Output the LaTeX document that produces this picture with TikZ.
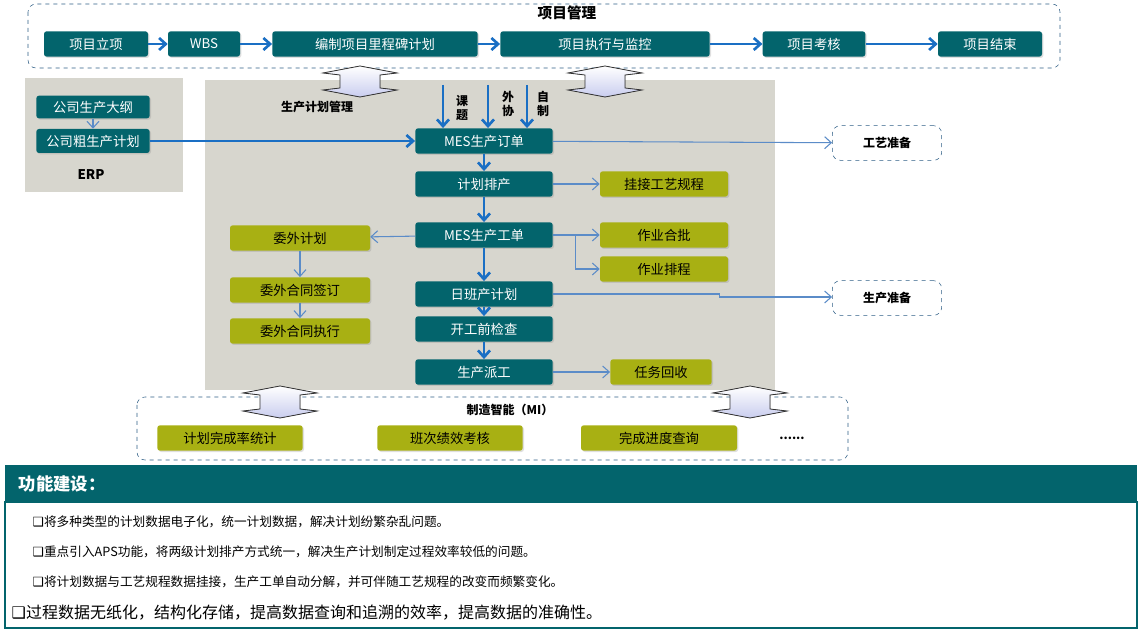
\documentclass[tikz,border=0pt]{standalone}
\usepackage{fontspec}
\setmainfont{Noto Sans CJK SC}
\newfontfamily\dv{DejaVu Sans}
\usetikzlibrary{arrows.meta,shadows}
\definecolor{teal1}{HTML}{03646C}
\definecolor{olive1}{HTML}{A8B013}
\definecolor{grey1}{HTML}{D7D6CE}
\definecolor{blue1}{HTML}{1A6FC4}
\definecolor{thin1}{HTML}{5B8CC8}
\definecolor{dash1}{HTML}{2F5F86}
\definecolor{lav}{HTML}{C9CDEF}
\tikzset{
  tb/.style={fill=teal1,text=white,rounded corners=2pt,font=\fontsize{10}{12}\selectfont,minimum height=19pt,inner sep=0pt,drop shadow={opacity=0.25,shadow xshift=1pt,shadow yshift=-1pt}},
  ob/.style={fill=olive1,text=black,rounded corners=2pt,font=\fontsize{10}{12}\selectfont,minimum height=19pt,inner sep=0pt,drop shadow={opacity=0.25,shadow xshift=1pt,shadow yshift=-1pt}},
  db/.style={draw=dash1,dashed,rounded corners=6pt,fill=white},
  thick1/.style={draw=blue1,line width=2pt,-{Straight Barb[length=5pt,width=9pt]}},
  thin2/.style={draw=thin1,line width=0.8pt,-{Straight Barb[length=5pt,width=9pt]}},
  bl/.style={font=\bfseries\fontsize{9}{11}\selectfont},
}
\newcommand{\dblarrow}[3]{% cx, y0, y1
  \filldraw[draw=black!80,line width=0.6pt,top color=white,bottom color=lav]
   (#1-37,#2+4)--(#1,#2-3)--(#1+37,#2+4)--(#1+20,#2+6)--(#1+20,#3-6)--(#1+37,#3-4)--(#1,#3+3)--(#1-37,#3-4)--(#1-20,#3-6)--(#1-20,#2+6)--cycle;}
\begin{document}
\begin{tikzpicture}[x=0.75pt,y=-0.75pt]
\useasboundingbox[fill=white] (0,0) rectangle (1145,630);
% top box
\draw[db] (28,4) rectangle (1060,68);
\node[bl,font=\bfseries\fontsize{11}{13}\selectfont] at (567,13) {项目管理};
\node[tb,minimum width=78pt] (p1) at (96,44) {项目立项};
\node[tb,minimum width=54pt] (p2) at (204,44) {WBS};
\node[tb,minimum width=154pt] (p3) at (375,44) {编制项目里程碑计划};
\node[tb,minimum width=157pt] (p4) at (605,44) {项目执行与监控};
\node[tb,minimum width=77pt] (p5) at (814,44) {项目考核};
\node[tb,minimum width=78pt] (p6) at (990,44) {项目结束};
\foreach \a/\b in {p1/p2,p2/p3,p3/p4,p4/p5,p5/p6} \draw[thick1] (\a)--(\b);
% ERP
\fill[grey1] (25,78) rectangle (183,192);
\node[tb,minimum width=85pt,minimum height=17pt] (e1) at (93,107) {公司生产大纲};
\node[tb,minimum width=85pt,minimum height=18pt] (e2) at (93,141) {公司粗生产计划};
\node[bl,font=\bfseries\fontsize{10}{12}\selectfont] at (91,175) {ERP};
\draw[thin2] (e1)--(e2);
% main grey
\fill[grey1] (205,80) rectangle (775,390);
\dblarrow{360}{69}{94}
\dblarrow{605}{69}{94}
\node[bl] at (317,107) {生产计划管理};
\node[tb,minimum width=103pt] (m1) at (484,141) {MES生产订单};
\coordinate (s1) at (443,85); \coordinate (s2) at (488,85); \coordinate (s3) at (527,85);
\draw[thick1] (s1)--(m1.north -| s1);
\draw[thick1] (s2)--(m1.north -| s2);
\draw[thick1] (s3)--(m1.north -| s3);
\node[bl,align=center] at (462,108) {课\\题};
\node[bl,align=center] at (508,104) {外\\协};
\node[bl,align=center] at (543,104) {自\\制};
\node[tb,minimum width=103pt] (m2) at (484,184) {计划排产};
\node[ob,minimum width=96pt] (g1) at (664,184) {挂接工艺规程};
\node[tb,minimum width=103pt] (m3) at (484,235) {MES生产工单};
\node[ob,minimum width=96pt] (g2) at (664,235) {作业合批};
\node[ob,minimum width=96pt] (g3) at (664,269) {作业排程};
\node[ob,minimum width=105pt] (w1) at (300,238) {委外计划};
\node[ob,minimum width=105pt] (w2) at (300,290) {委外合同签订};
\node[ob,minimum width=105pt] (w3) at (300,331) {委外合同执行};
\node[tb,minimum width=103pt] (m4) at (484,294) {日班产计划};
\node[tb,minimum width=103pt] (m5) at (484,329) {开工前检查};
\node[tb,minimum width=103pt] (m6) at (484,372) {生产派工};
\node[ob,minimum width=76pt] (g4) at (661,372) {任务回收};
% right dashed
\node[db,minimum width=82pt,minimum height=26pt,bl] (r1) at (887,143) {工艺准备};
\node[db,minimum width=82pt,minimum height=26pt,bl] (r2) at (887,298) {生产准备};
% connectors
\draw[thick1] (e2)--(m1);
\draw[thin2] (m1)--(r1);
\draw[thick1] (m1)--(m2);
\draw[thin2] (m2)--(g1);
\draw[thick1] (m2)--(m3);
\draw[thin2] (m3)--(g2);
\draw[thin2] (m3.east)++(23,0) coordinate (br) (br) |- (g3.west);
\draw[thin2] (m3)--(w1);
\draw[thin2] (w1)--(w2);
\draw[thin2] (w2)--(w3);
\draw[thick1] (m3)--(m4);
\draw[thick1] (m4)--(m5);
\draw[thick1] (m5)--(m6);
\draw[thin2] (m6)--(g4);
\draw[thin2] (m4.east) -- ++(167,0) -- ++(0,3) -- (r2.west |- 0,297);
% MI
\draw[db] (137,397) rectangle (848,460);
\dblarrow{280}{389}{415}
\dblarrow{750}{389}{415}
\node[bl] at (510,410) {制造智能（MI）};
\node[ob,minimum width=109pt] (i1) at (230,438) {计划完成率统计};
\node[ob,minimum width=109pt] (i2) at (450,438) {班次绩效考核};
\node[ob,minimum width=117pt] (i3) at (659,438) {完成进度查询};
\node[bl] at (792,438) {......};
% bottom
\fill[teal1] (5,465) rectangle (1137,502);
\node[text=white,font=\bfseries\fontsize{13}{15}\selectfont,anchor=west] at (14,484) {功能建设：};
\draw[teal1,line width=0.8pt] (5,502) rectangle (1137,628);
\begin{scope}[every node/.style={anchor=west,font=\fontsize{9.5}{11}\selectfont}]
\node at (28,522) {{\dv ❑}将多种类型的计划数据电子化，统一计划数据，解决计划纷繁杂乱问题。};
\node at (28,552) {{\dv ❑}重点引入APS功能，将两级计划排产方式统一，解决生产计划制定过程效率较低的问题。};
\node at (28,582) {{\dv ❑}将计划数据与工艺规程数据挂接，生产工单自动分解，并可伴随工艺规程的改变而频繁变化。};
\node[font=\fontsize{12}{14}\selectfont] at (7,613) {{\dv ❑}过程数据无纸化，结构化存储，提高数据查询和追溯的效率，提高数据的准确性。};
\end{scope}
\end{tikzpicture}
\end{document}
